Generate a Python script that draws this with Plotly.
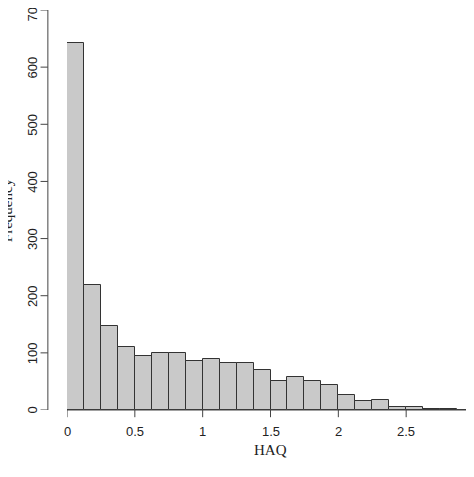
import plotly.graph_objs as go

# Histogram of HAQ scores (bin width 0.125)
bin_left = [i * 0.125 for i in range(24)]
counts = [643, 219, 147, 110, 95, 100, 99, 85, 90, 83, 83, 70,
          50, 57, 50, 43, 27, 15, 18, 6, 5, 2, 1, 0]

x_ticks = [0, 0.5, 1, 1.5, 2, 2.5, 3]
x_tick_labels = ["0", "0.5", "1", "1.5", "2", "2.5", "3"]
y_ticks = [0, 100, 200, 300, 400, 500, 600, 700]

centers = [b + 0.0625 for b in bin_left]

fig = go.Figure(go.Bar(x=centers, y=counts, width=0.125,
                       marker=dict(color="#c9c9c9", line=dict(color="#333333", width=1)),
                       hoverinfo="x+y"))

tick_font = dict(family="Liberation Sans, Arial", size=13, color="#222")
lbl_font = dict(family="Liberation Serif, Times New Roman", size=15, color="#222")

shapes = []
ann = []
line = dict(color="#444", width=1)
# x axis (R style)
shapes.append(dict(type="line", xref="x", yref="paper", x0=0, x1=3, y0=0, y1=0, line=line))
for t, lab in zip(x_ticks, x_tick_labels):
    shapes.append(dict(type="line", xref="x", yref="paper", x0=t, x1=t, y0=0, y1=-0.018, line=line))
    ann.append(dict(x=t, y=-0.053, xref="x", yref="paper", text=lab, showarrow=False,
                    font=tick_font, yanchor="middle"))
# y axis, offset to the left
ax_x = -0.047
shapes.append(dict(type="line", xref="paper", yref="y", x0=ax_x, x1=ax_x, y0=0, y1=700, line=line))
for t in y_ticks:
    shapes.append(dict(type="line", xref="paper", yref="y", x0=ax_x, x1=ax_x - 0.018, y0=t, y1=t, line=line))
    ann.append(dict(x=-0.085, y=t, xref="paper", yref="y", text=str(t), showarrow=False,
                    font=tick_font, textangle=-90, xanchor="center", yanchor="middle"))
ann.append(dict(x=0.5, y=-0.1, xref="paper", yref="paper", text="HAQ", showarrow=False,
                font=lbl_font, yanchor="middle"))
ann.append(dict(x=-0.147, y=0.5, xref="paper", yref="paper", text="Frequency", showarrow=False,
                font=lbl_font, textangle=-90, xanchor="center", yanchor="middle"))

fig.update_layout(
    width=474, height=477,
    margin=dict(l=59, r=8, t=2, b=75),
    plot_bgcolor="white", paper_bgcolor="white",
    showlegend=False, bargap=0,
    xaxis=dict(range=[0, 3], visible=False),
    yaxis=dict(range=[0, 700], visible=False),
    shapes=shapes, annotations=ann,
)

fig.write_html("out.html")
